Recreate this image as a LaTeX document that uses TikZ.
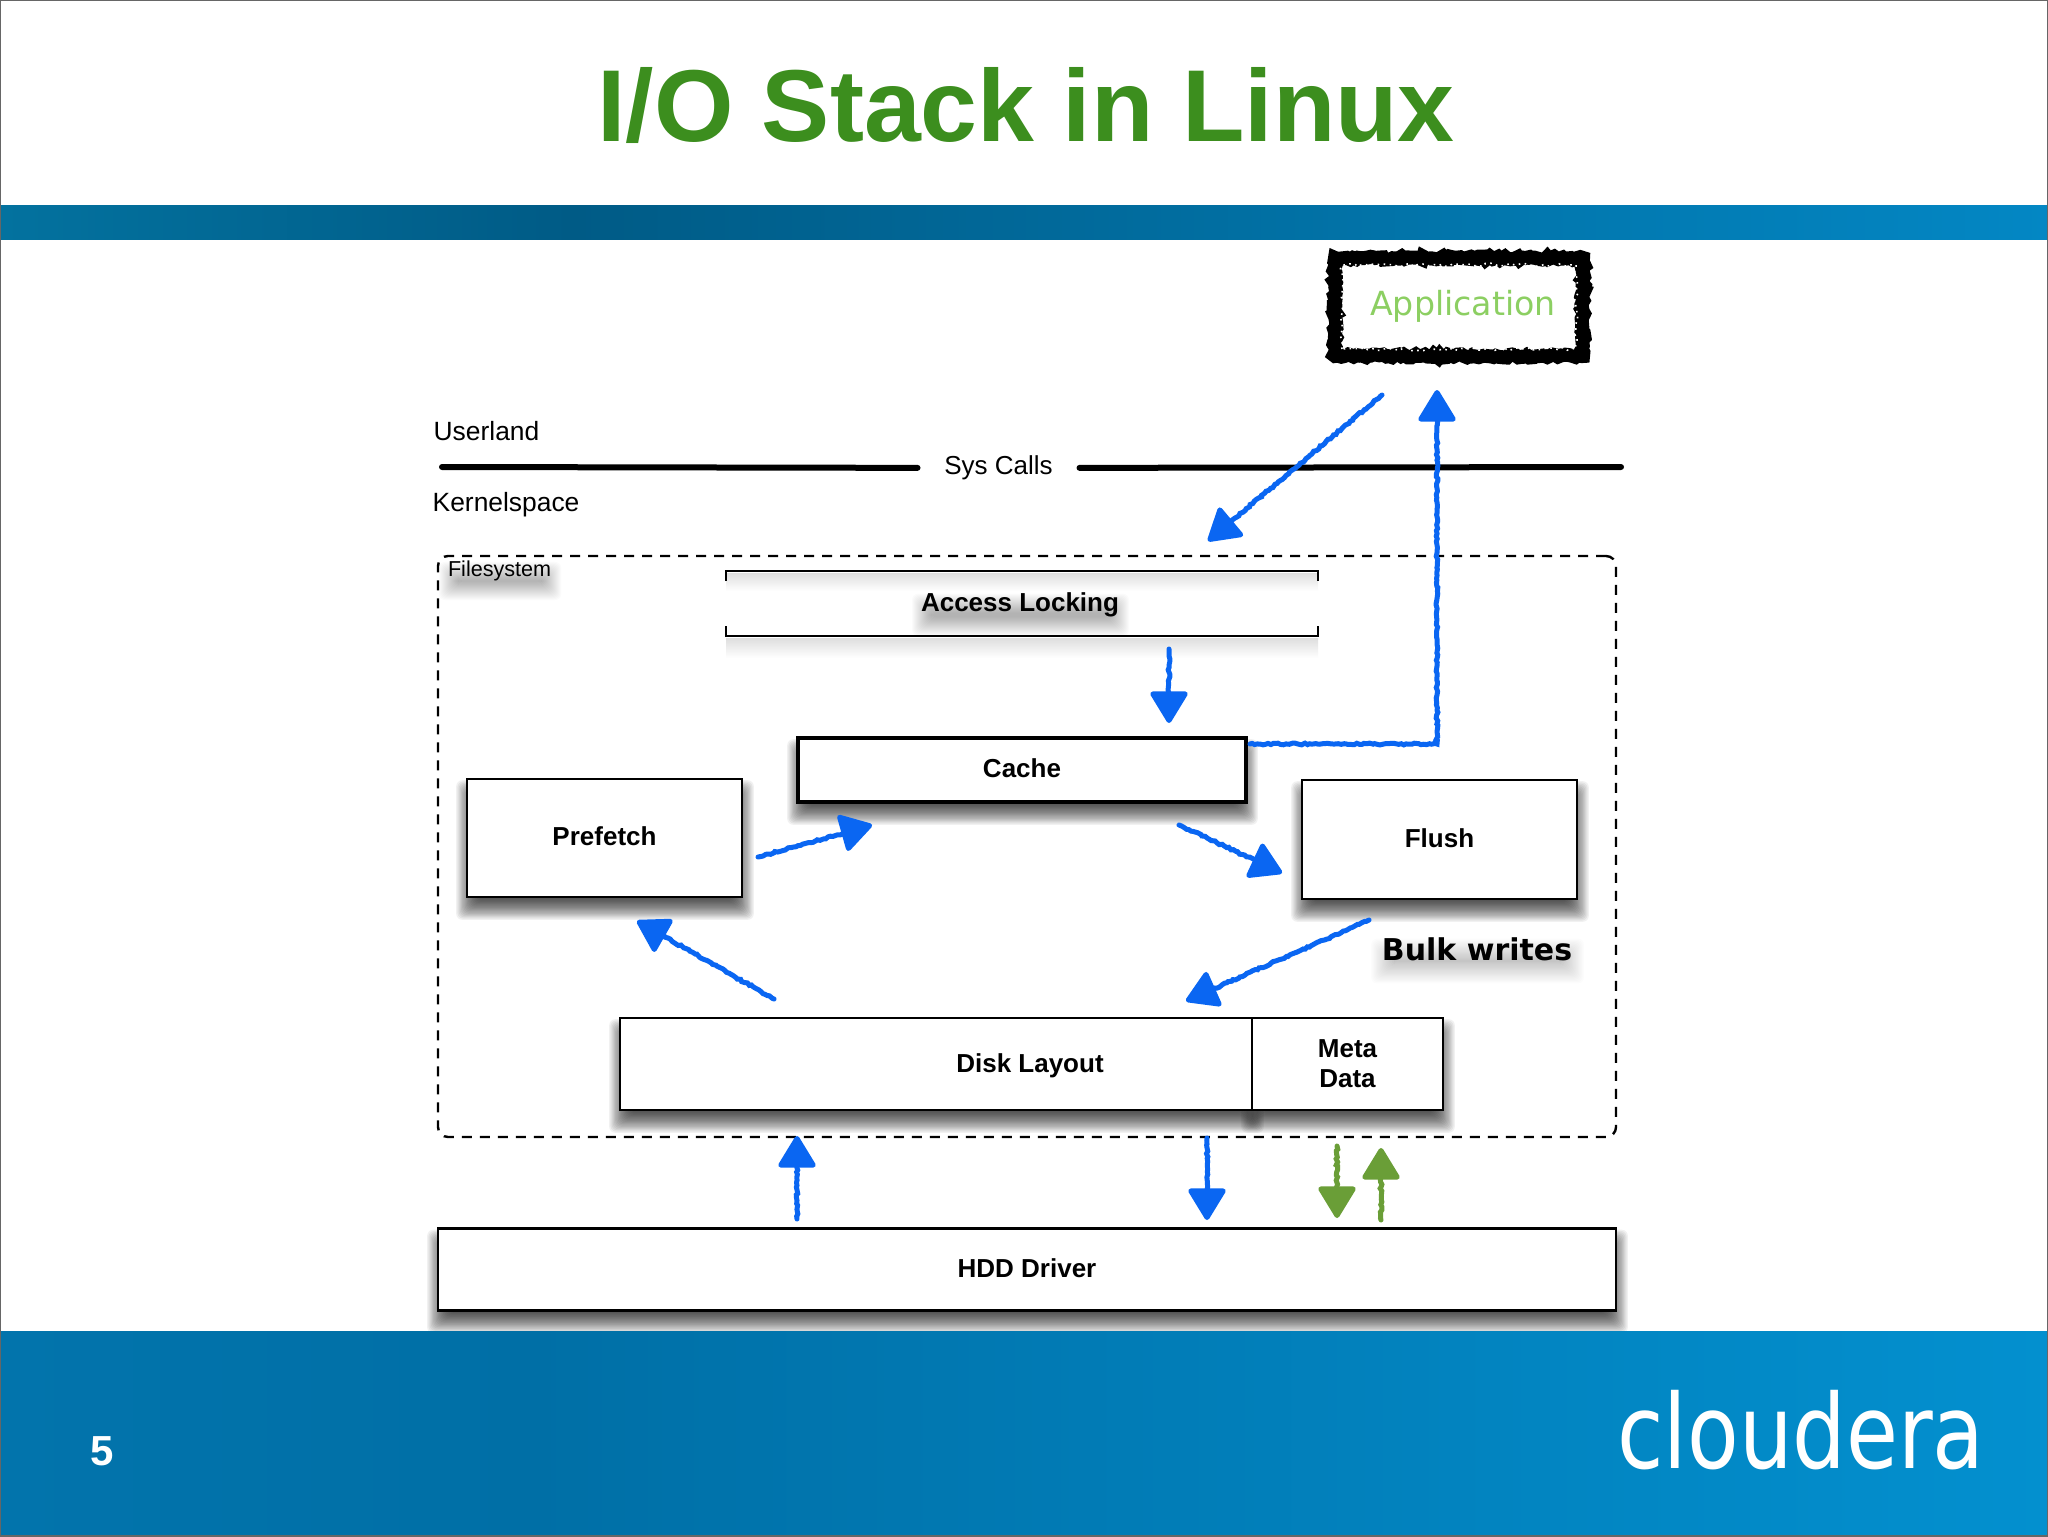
\documentclass[tikz,border=0pt]{standalone}
\usepackage{fontspec}
\usepackage{xcolor}
\usepackage{tikz}
\usetikzlibrary{arrows.meta,positioning,calc,decorations.pathmorphing}
\setmainfont{Liberation Sans}
\newfontfamily\lucidafont{DejaVu Sans}
\newfontfamily\logofont{DejaVu Sans}[FakeStretch=0.82]

\definecolor{titlegreen}{HTML}{3C8E1E}
\definecolor{appgreen}{HTML}{8CCF62}
\definecolor{penblue}{HTML}{0A66F2}
\definecolor{pengreen}{HTML}{6A9E37}
\definecolor{bandA}{HTML}{0274AC}
\definecolor{bandB}{HTML}{006FA6}
\definecolor{bandC}{HTML}{0390CF}
\definecolor{stripA}{HTML}{03729F}
\definecolor{stripB}{HTML}{005B86}
\definecolor{stripC}{HTML}{0387C4}
\pgfdeclarehorizontalshading{bandshade}{100bp}{color(0bp)=(bandA); color(25bp)=(bandA); color(38bp)=(bandB); color(75bp)=(bandC); color(100bp)=(bandC)}
\pgfdeclarehorizontalshading{stripshade}{100bp}{color(0bp)=(stripA); color(25bp)=(stripA); color(39bp)=(stripB); color(75bp)=(stripC); color(100bp)=(stripC)}
\pgfdeclarelayer{slide}
\pgfdeclarelayer{shadow}
\pgfsetlayers{slide,shadow,main}

% soft shadow behind a node: name, drop, opacity of one layer
\newcommand{\softshadow}[3]{%
  \begin{pgfonlayer}{shadow}
    \foreach \r in {-1,-0.9,...,1}{
      \fill[black, fill opacity=#3, rounded corners=3pt]
        ([shift={({-\r*#2*1pt},{-#2*1pt-\r*#2*1pt})}]#1.south west) rectangle
        ([shift={({\r*#2*1pt+0.5pt},{-#2*1pt+\r*#2*1pt})}]#1.north east);
    }
  \end{pgfonlayer}}

\begin{document}
\begin{tikzpicture}[
  x=0.5pt, y=-0.5pt,
  outer sep=0pt,
  txt/.style={font=\fontsize{13.2}{15}\selectfont},
  boldtxt/.style={font=\fontsize{13}{15}\selectfont\bfseries, align=center},
  box/.style={rectangle, draw, line width=1.3pt, fill=white, boldtxt, text height=10pt, text depth=2.5pt},
  fallshadow/.style={top color=black!13, bottom color=white, draw=none},
  pen/.style={line width=2.5pt, line cap=round, decorate,
    decoration={random steps, segment length=1.3pt, amplitude=0.45pt, post=lineto, post length=14pt},
    -{Triangle[length=17pt, width=20pt, round]}},
  bluepen/.style={pen, draw=penblue, penblue},
  greenpen/.style={pen, draw=pengreen, pengreen},
  scrawl/.style={draw=black, line width=7pt, decorate,
    decoration={random steps, segment length=1.5pt, amplitude=0.8pt}},
  speck/.style={draw=white, line width=0.8pt, dash pattern=on 0.8pt off 2.2pt, decorate,
    decoration={random steps, segment length=2pt, amplitude=0.9pt}}
]
\pgfmathsetseed{7}
\useasboundingbox (0,0) rectangle (2048,1536);

% Slide
\begin{pgfonlayer}{slide}
\fill[white] (0,0) rectangle (2048,1536);
\end{pgfonlayer}
\shade[shading=stripshade] (0,205) rectangle (2048,239);
\shade[shading=bandshade] (0,1331) rectangle (2048,1536);
\draw[gray!80!black, line width=1pt] (0,0) rectangle (2048,1536);
\node[font=\fontsize{51.1}{56}\selectfont\bfseries, text=titlegreen] (title) at (1026,105) {I/O Stack in Linux};
\node[font=\fontsize{21}{24}\selectfont\bfseries, text=white] (pagenum) at (102,1451) {5};
\node[font=\fontsize{51.5}{56}\logofont, text=white, anchor=base] (logo) at (1801,1468) {cloudera};

% Userland
\node[scrawl, minimum width=124pt, minimum height=49pt] (app) at (1459,307) {};
\draw[speck] ([shift={(3.5pt,3.5pt)}]app.south west) rectangle ([shift={(-3.5pt,-3.5pt)}]app.north east);
\node[font=\fontsize{16.6}{20}\lucidafont, text=appgreen] (app-label) at (1463,306) {Application};
\node[txt, anchor=west] (userland) at (427,431) {Userland};
\node[txt, anchor=west] (kernel) at (426,505) {Kernelspace};
\node[txt, font=\fontsize{13}{15}\selectfont, minimum width=81pt] (syscalls) at (998.5,468) {Sys Calls};
\coordinate (line-left) at (442,467);
\coordinate (line-right) at (1621,467);
\draw[line width=3pt, line cap=round] (line-left) -- (syscalls);
\draw[line width=3pt, line cap=round] (syscalls) -- (line-right);

% Filesystem
\node[draw, dash pattern=on 5pt off 4pt, line width=1.2pt, rounded corners=5pt, minimum width=589pt, minimum height=290.5pt] (fs) at (1027,846.5) {};
\node[font=\fontsize{10.8}{12}\selectfont, anchor=west, inner sep=0pt] (fs-label) at (448,571) {Filesystem};
\softshadow{fs-label}{5}{0.016}
\node[boldtxt, minimum width=296pt, minimum height=32.5pt] (access) at (1022,603.5) {};
\shade[fallshadow] ([yshift=-1pt]access.north west) rectangle ([yshift=-10pt]access.north east);
\shade[fallshadow] ([yshift=-1pt]access.south west) rectangle ([yshift=-11pt]access.south east);
\node[boldtxt, inner sep=0pt] (access-label) at (1020,605) {Access Locking};
\softshadow{access-label}{5}{0.016}
\draw[line width=1.1pt] ([yshift=-5pt]access.north west) -- (access.north west) -- (access.north east) -- ([yshift=-5pt]access.north east);
\draw[line width=1.1pt] ([yshift=5pt]access.south west) -- (access.south west) -- (access.south east) -- ([yshift=5pt]access.south east);
\node[box, line width=2.2pt, minimum width=224pt, minimum height=32pt] (cache) at (1022,770) {Cache};
\node[box, minimum width=137.5pt, minimum height=59pt] (prefetch) at (604.5,838) {Prefetch};
\node[box, minimum width=137.5pt, minimum height=59.5pt] (flush) at (1439.5,839.5) {Flush};
\node[font=\fontsize{15}{18}\lucidafont\bfseries, inner sep=0pt] (bulk) at (1477,949) {Bulk writes};
\softshadow{bulk}{6}{0.013}
\node[box, minimum width=316pt, minimum height=46pt] (disk) at (936,1064) {};
\node[boldtxt] (disk-label) at (1030,1066) {Disk Layout};
\node[box, text height=, text depth=, minimum width=95.5pt, minimum height=46pt, right=0pt of disk] (meta) {Meta\\Data};
\node[box, minimum width=589pt, minimum height=41pt] (hdd) at (1027,1269.5) {HDD Driver};
\foreach \b in {cache,prefetch,flush,disk,meta,hdd}{\softshadow{\b}{6}{0.055}}

% Pen arrows
\coordinate (a1) at (1382,395);   \coordinate (a2) at (1208,541);
\coordinate (b1) at (1250,744);   \coordinate (b2) at (1437,744);   \coordinate (b3) at (1437,390);
\coordinate (c1) at (1169,649);   \coordinate (c2) at (1169,723);
\coordinate (d1) at (758,857);    \coordinate (d2) at (872,825);
\coordinate (e1) at (1179,825);   \coordinate (e2) at (1282,873);
\coordinate (f1) at (1369,920);   \coordinate (f2) at (1186,1001);
\coordinate (g1) at (774,999);    \coordinate (g2) at (637,921);
\coordinate (h1) at (797,1219);   \coordinate (h2) at (797,1136);
\coordinate (i1) at (1207,1138);  \coordinate (i2) at (1207,1220);
\coordinate (j1) at (1337,1146);  \coordinate (j2) at (1337,1218);
\coordinate (k1) at (1381,1220);  \coordinate (k2) at (1381,1148);

\draw[bluepen] (a1) -- (a2);
\draw[bluepen] (b1) -- (b2) -- (b3);
\draw[bluepen] (c1) -- (c2);
\draw[bluepen] (d1) -- (d2);
\draw[bluepen] (e1) -- (e2);
\draw[bluepen] (f1) -- (f2);
\draw[bluepen] (g1) -- (g2);
\draw[bluepen] (h1) -- (h2);
\draw[bluepen] (i1) -- (i2);
\draw[greenpen] (j1) -- (j2);
\draw[greenpen] (k1) -- (k2);

\end{tikzpicture}
\end{document}
